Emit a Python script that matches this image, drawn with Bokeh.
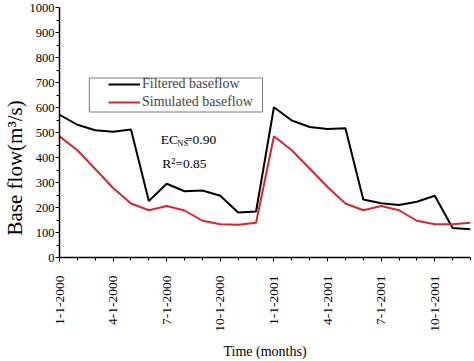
from bokeh.plotting import figure
from bokeh.models import (Range1d, FixedTicker, Legend, LegendItem, BoxAnnotation, Label, Title)
from bokeh.embed import file_html
from bokeh.resources import INLINE
from math import pi

# ---- data ----
months = list(range(24))
filtered = [571, 531, 509, 503, 512, 226, 295, 265, 268, 247, 180, 184,
            601, 548, 522, 514, 517, 232, 217, 210, 223, 247, 118, 113]
simulated = [485, 429, 354, 278, 216, 189, 206, 188, 147, 133, 131, 139,
             485, 429, 356, 282, 216, 189, 206, 189, 147, 133, 133, 139]
x_tick_positions = [0, 3, 6, 9, 12, 15, 18, 21]
x_tick_labels = ["1-1-2000", "4-1-2000", "7-1-2000", "10-1-2000",
                 "1-1-2001", "4-1-2001", "7-1-2001", "10-1-2001"]
y_ticks = list(range(0, 1001, 100))
y_minor = list(range(0, 1001, 50))

FONT = "Liberation Serif"

p = figure(width=474, height=361, output_backend="svg", toolbar_location=None,
           x_range=Range1d(0, 23), y_range=Range1d(0, 1000),
           min_border_left=57, min_border_right=4, min_border_top=7, min_border_bottom=0)
p.outline_line_color = None
p.xgrid.visible = False
p.ygrid.visible = False

r1 = p.line(months, filtered, line_color="black", line_width=2)
r2 = p.line(months, simulated, line_color="#d7262e", line_width=2)

# axes
xa = p.xaxis[0]
xa.ticker = FixedTicker(ticks=x_tick_positions, minor_ticks=months)
xa.major_label_overrides = {t: l for t, l in zip(x_tick_positions, x_tick_labels)}
xa.major_label_orientation = pi / 2
xa.major_label_standoff = 14
xa.major_label_text_font = FONT
xa.major_label_text_font_size = "13.5px"
xa.major_label_text_color = "black"
xa.major_tick_out = 4
xa.major_tick_in = 0
xa.minor_tick_out = 3
xa.minor_tick_in = 0
xa.axis_line_width = 1.5
xa.axis_label = "Time (months)"
xa.axis_label_text_font = FONT
xa.axis_label_text_font_size = "14px"
xa.axis_label_text_font_style = "normal"
xa.axis_label_standoff = 9
xa.axis_label_text_color = "black"

ya = p.yaxis[0]
ya.ticker = FixedTicker(ticks=y_ticks, minor_ticks=y_minor)
ya.major_label_text_font = FONT
ya.major_label_text_font_size = "12.5px"
ya.major_label_text_color = "black"
ya.major_label_standoff = 1
ya.major_tick_out = 4
ya.major_tick_in = 0
ya.minor_tick_out = 3
ya.minor_tick_in = 0
ya.axis_line_width = 1.5

# y-axis title as a side title, starting a little above the frame bottom
p.add_layout(Title(text="Base flow(m³/s)", align="left", offset=22,
                   text_font=FONT, text_font_size="21px", text_font_style="normal",
                   text_color="black", standoff=0), "left")

# legend
legend = Legend(items=[LegendItem(label="Filtered baseflow", renderers=[r1]),
                       LegendItem(label="Simulated baseflow", renderers=[r2])],
                location=(49, 146), padding=0, margin=0, spacing=0,
                glyph_width=32, glyph_height=18, label_height=18, label_standoff=2,
                label_text_font=FONT, label_text_font_size="14px",
                border_line_alpha=0, background_fill_alpha=0)
p.add_layout(legend)
p.add_layout(BoxAnnotation(left=1.67, right=11.36, bottom=582, top=718,
                           fill_alpha=0, line_color="#7a7a7a", line_alpha=1.0, line_width=1))

# statistics
p.add_layout(Label(x=5.66, y=471, text="EC", text_font=FONT, text_font_size="13.5px",
                   text_baseline="alphabetic", text_color="black"))
p.add_layout(Label(x=6.59, y=458, text="NS", text_font=FONT, text_font_size="8.5px",
                   text_baseline="alphabetic", text_color="black"))
p.add_layout(Label(x=7.02, y=471, text="=0.90", text_font=FONT, text_font_size="13.5px",
                   text_baseline="alphabetic", text_color="black"))
p.add_layout(Label(x=5.75, y=375, text="R²=0.85", text_font=FONT, text_font_size="13.5px",
                   text_baseline="alphabetic", text_color="black"))

open("out.html", "w").write(file_html(p, INLINE))
